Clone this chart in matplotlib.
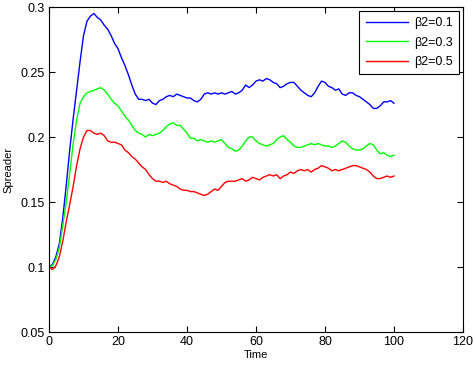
import matplotlib.pyplot as plt

# spreader density over time for three beta2 values (step 1)
time = list(range(0, 101))

spread_b01 = [0.100, 0.102, 0.108, 0.118, 0.138, 0.163, 0.190, 0.214, 0.236, 0.258,
              0.278, 0.289, 0.293, 0.295, 0.292, 0.290, 0.286, 0.283, 0.278, 0.272,
              0.268, 0.261, 0.255, 0.248, 0.240, 0.233, 0.229, 0.229, 0.228, 0.229,
              0.226, 0.225, 0.228, 0.229, 0.231, 0.232, 0.231, 0.233, 0.232, 0.231,
              0.230, 0.230, 0.228, 0.227, 0.229, 0.233, 0.234, 0.233, 0.234, 0.233,
              0.234, 0.233, 0.234, 0.235, 0.233, 0.234, 0.236, 0.240, 0.238, 0.240,
              0.243, 0.244, 0.243, 0.245, 0.244, 0.242, 0.241, 0.238, 0.239, 0.241,
              0.242, 0.242, 0.239, 0.236, 0.234, 0.232, 0.231, 0.234, 0.239, 0.243,
              0.242, 0.239, 0.238, 0.236, 0.237, 0.233, 0.232, 0.234, 0.234, 0.232,
              0.231, 0.229, 0.227, 0.225, 0.222, 0.222, 0.224, 0.227, 0.227, 0.228,
              0.226]

spread_b03 = [0.100, 0.101, 0.106, 0.115, 0.132, 0.150, 0.172, 0.195, 0.213, 0.226,
              0.231, 0.234, 0.235, 0.236, 0.237, 0.238, 0.236, 0.233, 0.229, 0.226,
              0.224, 0.220, 0.216, 0.213, 0.209, 0.205, 0.203, 0.202, 0.200, 0.202,
              0.201, 0.202, 0.203, 0.205, 0.208, 0.210, 0.211, 0.209, 0.209, 0.206,
              0.203, 0.199, 0.199, 0.197, 0.198, 0.197, 0.196, 0.197, 0.196, 0.197,
              0.198, 0.195, 0.192, 0.191, 0.189, 0.190, 0.193, 0.197, 0.200, 0.200,
              0.197, 0.195, 0.194, 0.193, 0.194, 0.195, 0.198, 0.200, 0.201, 0.198,
              0.196, 0.193, 0.192, 0.192, 0.193, 0.194, 0.195, 0.194, 0.195, 0.194,
              0.193, 0.193, 0.192, 0.193, 0.195, 0.197, 0.196, 0.193, 0.191, 0.190,
              0.190, 0.191, 0.193, 0.195, 0.194, 0.190, 0.187, 0.188, 0.186, 0.185,
              0.186]

spread_b05 = [0.100, 0.098, 0.101, 0.108, 0.120, 0.135, 0.148, 0.162, 0.178, 0.191,
              0.200, 0.205, 0.205, 0.203, 0.202, 0.203, 0.201, 0.197, 0.196, 0.196,
              0.195, 0.194, 0.190, 0.188, 0.185, 0.183, 0.180, 0.177, 0.175, 0.171,
              0.168, 0.166, 0.166, 0.165, 0.166, 0.164, 0.163, 0.162, 0.160, 0.159,
              0.159, 0.158, 0.158, 0.157, 0.156, 0.155, 0.156, 0.158, 0.160, 0.159,
              0.162, 0.165, 0.166, 0.166, 0.166, 0.167, 0.168, 0.166, 0.167, 0.169,
              0.168, 0.167, 0.169, 0.170, 0.171, 0.170, 0.171, 0.168, 0.170, 0.171,
              0.173, 0.172, 0.174, 0.175, 0.174, 0.175, 0.173, 0.175, 0.176, 0.178,
              0.177, 0.176, 0.174, 0.175, 0.174, 0.175, 0.176, 0.177, 0.178, 0.178,
              0.177, 0.176, 0.175, 0.173, 0.170, 0.168, 0.168, 0.169, 0.170, 0.169,
              0.170]

labels = ["β2=0.1", "β2=0.3", "β2=0.5"]
colors = ["#0000ff", "#00ff00", "#ff0000"]

plt.rcParams['font.family'] = ['Liberation Sans', 'DejaVu Sans']
plt.rcParams['font.size'] = 8

fig = plt.figure(figsize=(4.74, 3.65), dpi=100)
ax = fig.add_axes([0.1034, 0.0904, 0.8734, 0.8904])

for y, lab, c in zip([spread_b01, spread_b03, spread_b05], labels, colors):
    ax.plot(time, y, color=c, linewidth=1.0, label=lab)

ax.set_xlim(0, 120)
ax.set_ylim(0.05, 0.3)
ax.set_xticks([0, 20, 40, 60, 80, 100, 120])
ax.set_yticks([0.05, 0.1, 0.15, 0.2, 0.25, 0.3])
ax.set_yticklabels(["0.05", "0.1", "0.15", "0.2", "0.25", "0.3"])
ax.tick_params(direction='in', top=True, right=True, length=4, width=0.8, pad=3,
               labelsize=9)
for s in ax.spines.values():
    s.set_linewidth(0.8)

ax.set_xlabel("Time", fontsize=8, labelpad=1)
ax.set_ylabel("Spreader", fontsize=8, labelpad=5)

leg = ax.legend(loc='upper right', fancybox=False, edgecolor='black', framealpha=1,
                fontsize=9, borderaxespad=0.3, handlelength=3.4, handletextpad=0.5,
                labelspacing=0.6, borderpad=0.5)
leg.get_frame().set_linewidth(0.8)

plt.savefig("out.png", dpi=100)
